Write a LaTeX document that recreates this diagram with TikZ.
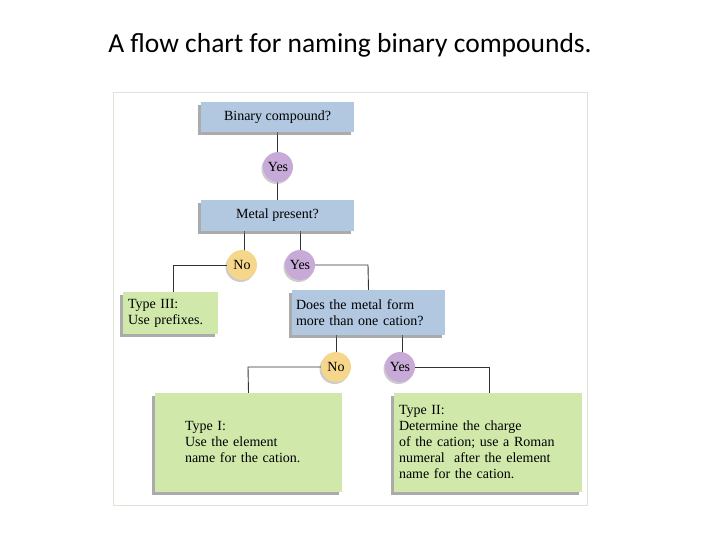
\documentclass[tikz,border=0pt]{standalone}
\usepackage{fontspec}
\setmainfont{Liberation Serif}
\newfontfamily\titlefont{Carlito}
\usetikzlibrary{shadows}
\definecolor{qblue}{RGB}{178,199,224}
\definecolor{tgreen}{RGB}{208,233,170}
\definecolor{ypurple}{RGB}{200,170,216}
\definecolor{nyellow}{RGB}{246,214,138}
\definecolor{frm}{RGB}{225,225,215}
\begin{document}
\begin{tikzpicture}[x=1pt,y=-1pt,
  box/.style={draw=none,inner sep=0pt,font=\fontsize{14}{16}\selectfont,
    drop shadow={shadow xshift=-3pt,shadow yshift=-3pt,fill=black!55,opacity=.6}},
  qbox/.style={box,fill=qblue},
  tbox/.style={box,fill=tgreen},
  ans/.style={circle,minimum size=30pt,inner sep=0pt,font=\fontsize{14}{16}\selectfont,
    drop shadow={shadow xshift=-1.5pt,shadow yshift=-2pt,fill=black!40,opacity=.5}},
  yes/.style={ans,fill=ypurple},
  no/.style={ans,fill=nyellow},
  conn/.style={draw=black!80,line width=0.9pt}]
\useasboundingbox (0,0) rectangle (720,540);
\node[font=\titlefont\fontsize{27.5}{32}\selectfont] (title) at (350,45) {A flow chart for naming binary compounds.};
\draw[frm,line width=1pt] (113,93) rectangle (587,505);
\draw[conn] (277.5,117) -- (277.5,215);
\draw[conn] (244,215) -- (244,265);
\draw[conn] (300,215) -- (300,265);
\draw[conn] (336,312) -- (336,367);
\draw[conn] (402,312) -- (402,367);
\node[qbox,minimum width=153pt,minimum height=30pt] (b1) at (277.5,117) {Binary compound?};
\node[qbox,minimum width=153pt,minimum height=31pt] (b2) at (277.5,215.5) {Metal present?};
\node[tbox,minimum width=95pt,minimum height=42pt,align=left,text width=85pt] (t3) at (170.5,313) {Type III:\\Use prefixes.};
\node[qbox,minimum width=153pt,minimum height=45pt,align=left,text width=145pt] (b3) at (368.5,312.5) {Does the metal form\\more than one cation?};
\node[tbox,minimum width=187pt,minimum height=99pt,align=left,text width=155pt] (t1) at (248.5,442.5) {\hspace*{14pt}Type I:\\\hspace*{14pt}Use the element\\\hspace*{14pt}name for the cation.\\[16pt]};
\node[tbox,minimum width=188pt,minimum height=99pt,align=left,text width=178pt] (t2) at (488,442.5) {Type II:\\Determine the charge\\of the cation; use a Roman\\numeral\ \ after the element\\name for the cation.};
\node[yes] (y1) at (278,167) {Yes};
\node[no] (n1) at (242,265) {No};
\node[yes] (y2) at (300,265) {Yes};
\node[no] (n2) at (336,367) {No};
\node[yes] (y3) at (400,367) {Yes};
\draw[conn] (n1.west) -- (173,265) -- (t3.north -| 173,0);
\draw[conn] (y2.east) -- (368,265) -- (b3.north);
\draw[conn] (n2.west) -- (248,367) -- (t1.north);
\draw[conn] (y3.east) -- (489,367) -- (t2.north -| 489,0);
\end{tikzpicture}
\end{document}
